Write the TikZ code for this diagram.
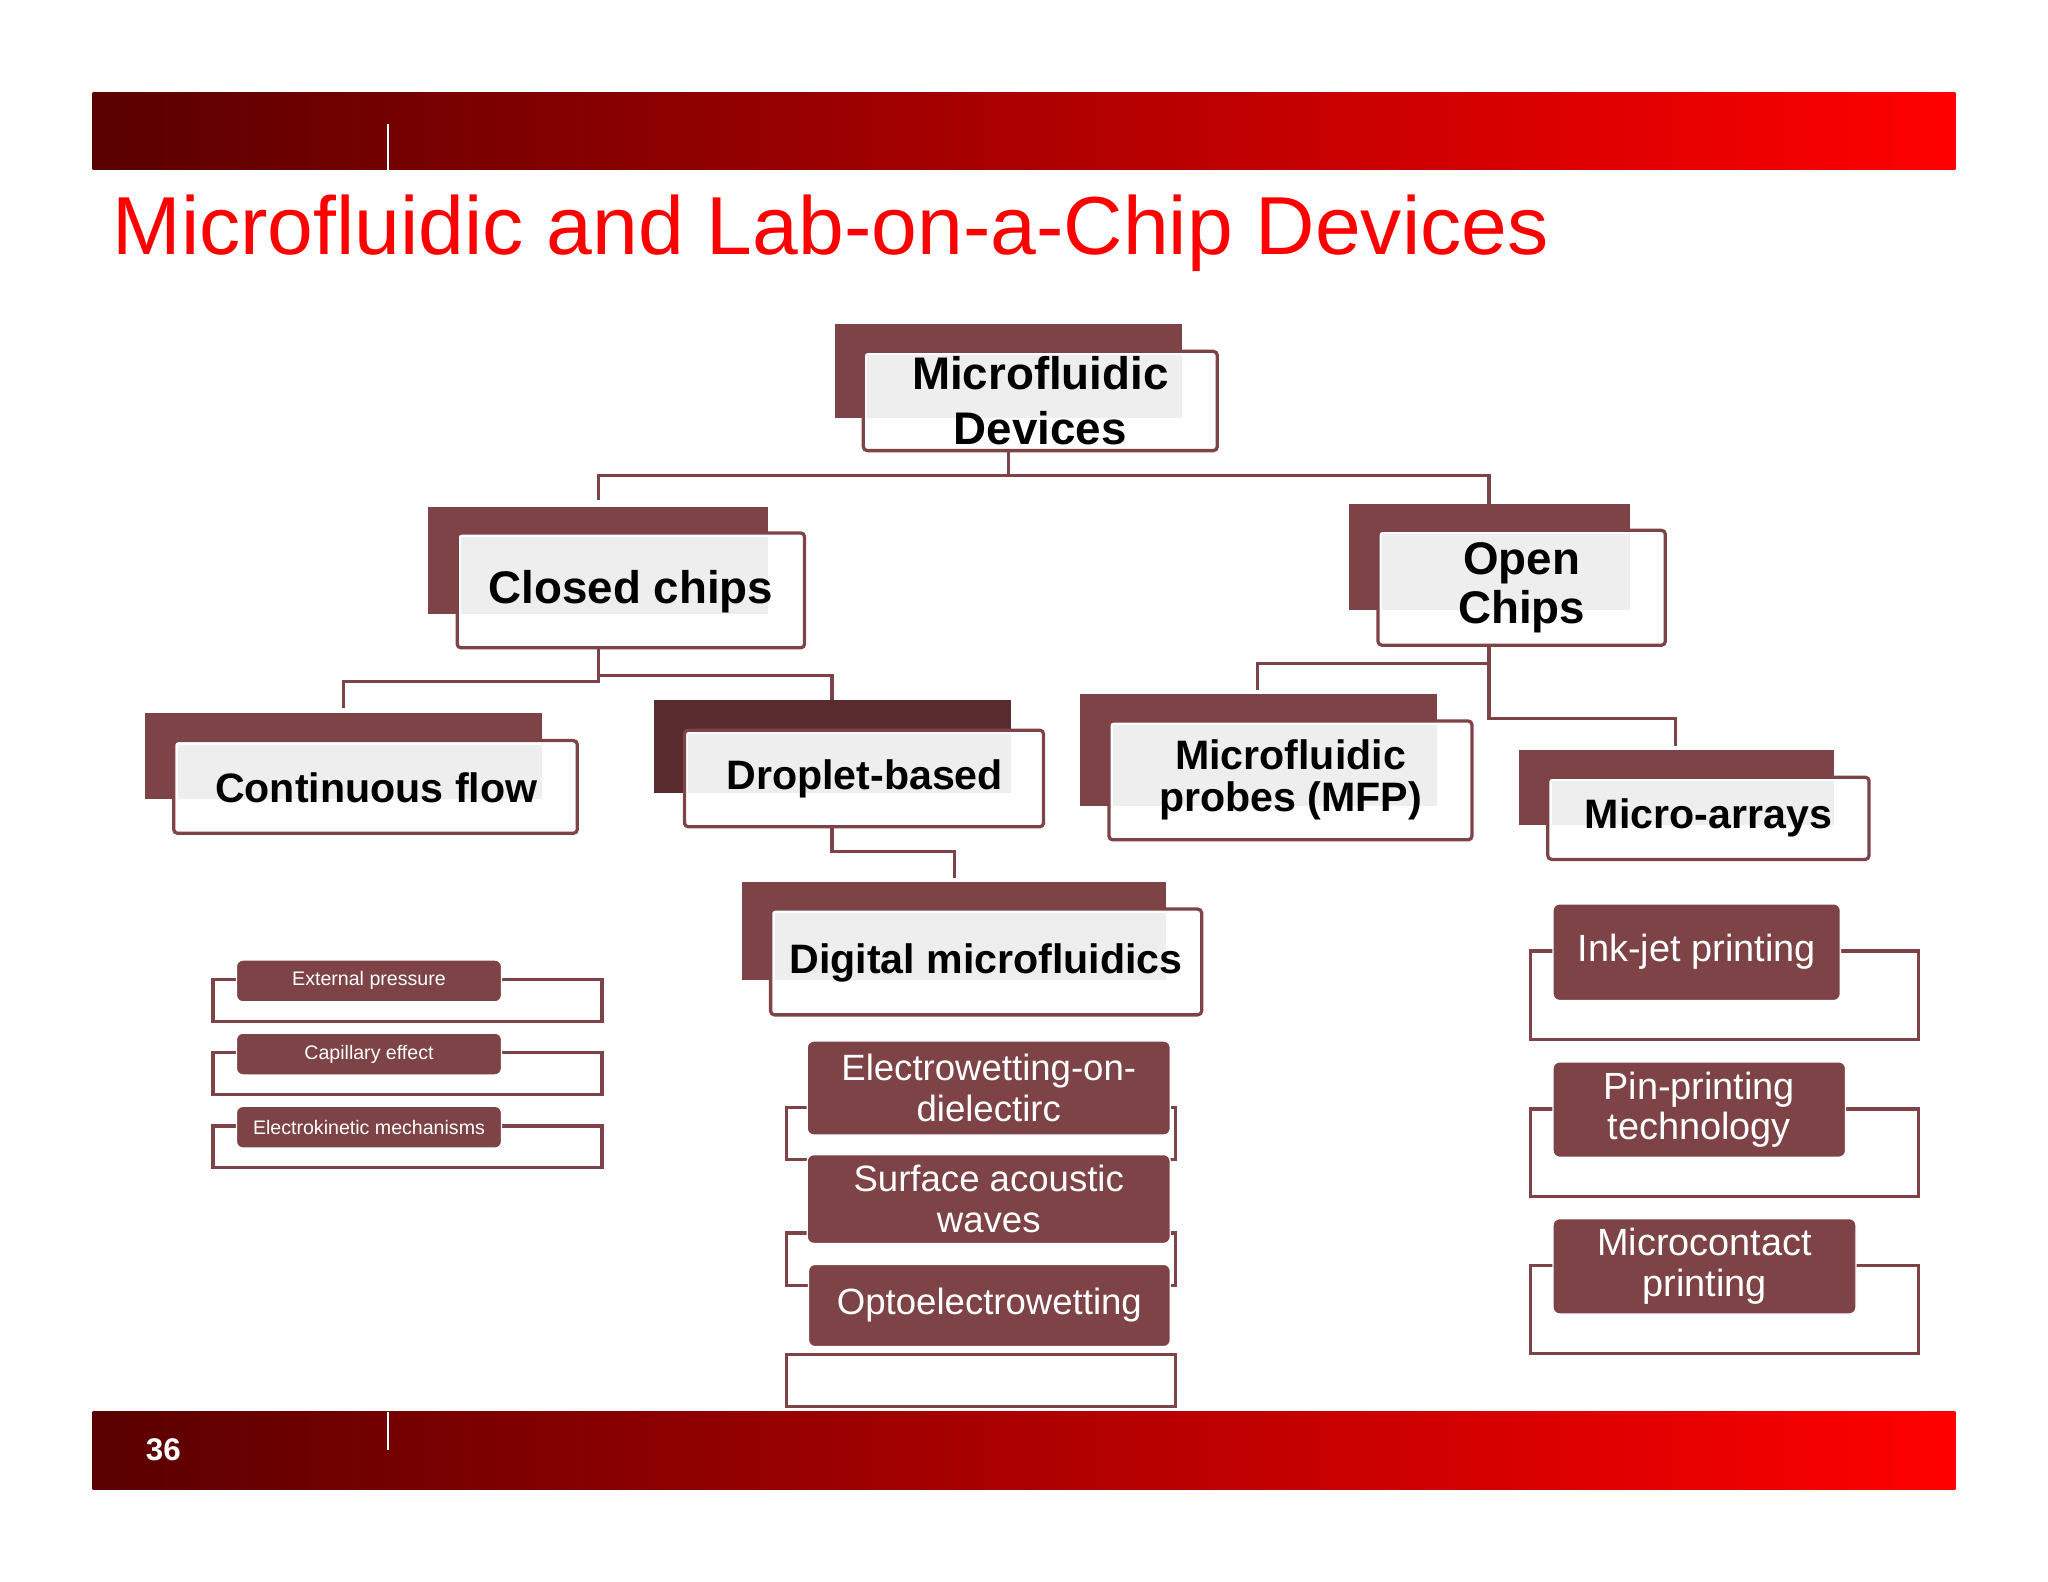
\documentclass[tikz,border=0pt]{standalone}
\usepackage{fontspec}
\setmainfont{Liberation Sans}
\definecolor{br}{HTML}{7D4346}
\definecolor{brd}{HTML}{5A2B2E}
\definecolor{ovl}{HTML}{EFEEEE}
\begin{document}
\begin{tikzpicture}[x=1pt,y=-1pt,
 back/.style={fill=br},
 front/.style={draw=br,line width=2.5pt,fill=white,rounded corners=3pt,inner sep=0pt,align=center},
 big/.style={font=\fontsize{35}{40}\selectfont\bfseries},
 mid/.style={font=\fontsize{31.5}{34}\selectfont\bfseries},
 conn/.style={draw=br,line width=2.5pt},
 pill/.style={fill=br,draw=white,line width=1pt,rounded corners=5pt,text=white,inner sep=0pt,align=center},
 brk/.style={draw=br,line width=2.5pt}]
\useasboundingbox (0,0) rectangle (1568,1211);
% banners
\shade[left color=red!35!black,right color=red] (71,71) rectangle (1497,130);
\shade[left color=red!35!black,right color=red] (71,1081) rectangle (1497,1140);
\draw[white,line width=1pt] (297,95) -- (297,130);
\draw[white,line width=1pt] (297,1081) -- (297,1110);
\node[text=white,font=\fontsize{24}{24}\selectfont\bfseries] (pg) at (125,1110) {36};
\node[anchor=base west,text=red,inner sep=0pt,font=\fontsize{63}{63}\selectfont] (title) at (86,195) {Microfluidic and Lab-on-a-Chip Devices};
% connectors
\draw[conn] (772,345) -- (772,364) -- (458,364) -- (458,383);
\draw[conn] (772,364) -- (1140,364) -- (1140,386);
\draw[conn] (458,496) -- (458,522) -- (263,522) -- (263,542);
\draw[conn] (458,517) -- (637,517) -- (637,537);
\draw[conn] (637,633) -- (637,652) -- (731,652) -- (731,672);
\draw[conn] (1140,494) -- (1140,508) -- (963,508) -- (963,528);
\draw[conn] (1140,508) -- (1140,550) -- (1283,550) -- (1283,571);
% composite boxes
\fill[back] (639,248) rectangle (905,320);
\node[front,minimum width=271,minimum height=76] (md) at (796.5,307) {};
\fill[ovl] (664,272) rectangle (905,320);
\node[big,align=center] (mdt) at (796.5,307) {Microfluidic\\[2pt]Devices};

\fill[back] (328,388) rectangle (588,470);
\node[front,minimum width=266,minimum height=88] (cc) at (483,452) {};
\fill[ovl] (353,411) rectangle (588,470);
\node[big] (cct) at (483,453) {Closed chips};

\fill[back] (1033,386) rectangle (1248,467);
\node[front,minimum width=220,minimum height=88] (oc) at (1165,450) {};
\fill[ovl] (1058,409) rectangle (1248,467);
\node[big,align=center] (oct) at (1165,450) {Open\\[-2pt]Chips};

\fill[back] (111,546) rectangle (415,612);
\node[front,minimum width=309,minimum height=71] (cf) at (287.5,602.5) {};
\fill[ovl] (136,570) rectangle (415,612);
\node[mid] (cft) at (288,603) {Continuous flow};

\fill[brd] (501,536) rectangle (774,607);
\node[front,minimum width=275,minimum height=74] (db) at (661.5,596) {};
\fill[ovl] (527,562) rectangle (774,607);
\node[mid] (dbt) at (662,596) {Droplet-based};

\fill[back] (568,675) rectangle (893,750);
\node[front,minimum width=330,minimum height=81] (dm) at (755,736.5) {};
\fill[ovl] (593,699) rectangle (893,750);
\node[mid] (dmt) at (755,737) {Digital microfluidics};

\fill[back] (827,531) rectangle (1100,617);
\node[front,minimum width=278,minimum height=91] (mfp) at (988,597.5) {};
\fill[ovl] (852,555) rectangle (1100,617);
\node[mid,align=center] (mfpt) at (988,597) {Microfluidic\\[-2pt]probes (MFP)};

\fill[back] (1163,574) rectangle (1404,632);
\node[front,minimum width=246,minimum height=63] (ma) at (1308,626.5) {};
\fill[ovl] (1188,598) rectangle (1404,632);
\node[mid] (mat) at (1308,626) {Micro-arrays};
% left list
\draw[brk] (163,750) rectangle (461,782);
\draw[brk] (163,806) rectangle (461,838);
\draw[brk] (163,862) rectangle (461,894);
\node[pill,minimum width=203,minimum height=32,font=\fontsize{15}{15}\selectfont] (ep) at (282.5,751) {External pressure};
\node[pill,minimum width=203,minimum height=32,font=\fontsize{15}{15}\selectfont] (ce) at (282.5,807) {Capillary effect};
\node[pill,minimum width=203,minimum height=32,font=\fontsize{15}{15}\selectfont] (ek) at (282.5,863) {Electrokinetic mechanisms};
% middle list
\draw[brk] (602,848) rectangle (900,888);
\draw[brk] (602,944) rectangle (900,984);
\draw[brk] (602,1037) rectangle (900,1077);
\node[pill,minimum width=278,minimum height=72,font=\fontsize{28}{31}\selectfont] (ew) at (757,833) {Electrowetting-on-\\dielectirc};
\node[pill,minimum width=278,minimum height=68,font=\fontsize{28}{31}\selectfont] (saw) at (757,918) {Surface acoustic\\waves};
\node[pill,minimum width=277,minimum height=63,font=\fontsize{28}{31}\selectfont] (oew) at (757.5,999.5) {Optoelectrowetting};
% right list
\draw[brk] (1172,728) rectangle (1469,796);
\draw[brk] (1172,849) rectangle (1469,916);
\draw[brk] (1172,969) rectangle (1469,1036);
\node[pill,minimum width=220,minimum height=74,font=\fontsize{29}{31}\selectfont] (ij) at (1299,729) {Ink-jet printing};
\node[pill,minimum width=224,minimum height=73,font=\fontsize{29}{31}\selectfont] (pp) at (1301,849.5) {Pin-printing\\technology};
\node[pill,minimum width=232,minimum height=73,font=\fontsize{29}{31}\selectfont] (mc) at (1305,969.5) {Microcontact\\printing};
\end{tikzpicture}
\end{document}
